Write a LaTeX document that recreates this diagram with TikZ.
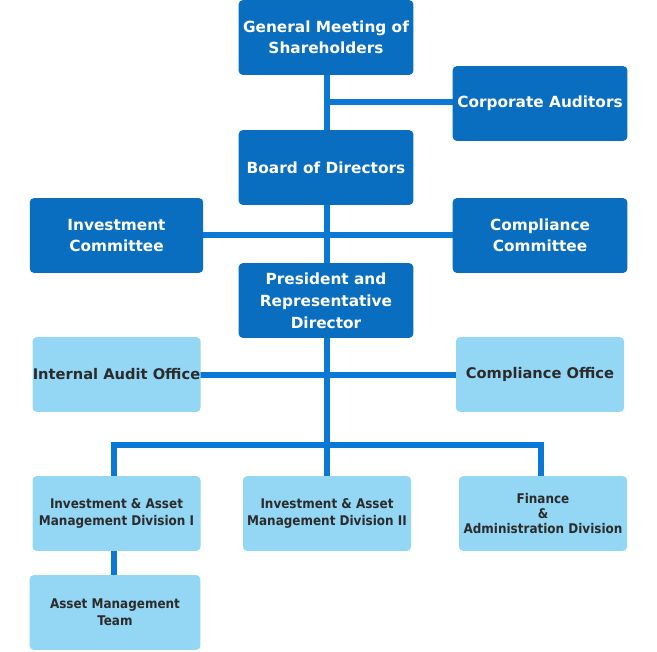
\documentclass[tikz,border=0pt]{standalone}
\usepackage{fontspec}
\setmainfont{DejaVu Sans}
\newfontfamily\condfont{DejaVu Sans Condensed}
\definecolor{darkbox}{HTML}{0A6EC0}
\definecolor{lightbox}{HTML}{93D7F5}
\definecolor{linkblue}{HTML}{0B78D6}
\definecolor{darktext}{HTML}{2B2B2B}
\tikzset{
  upper/.style={fill=darkbox, rounded corners=3pt, text=white, align=center,
    font=\bfseries\fontsize{11.5}{16}\selectfont, inner sep=0pt},
  lower/.style={fill=lightbox, rounded corners=3pt, text=darktext, align=center,
    font=\bfseries\fontsize{11}{15}\selectfont, inner sep=0pt},
  small/.style={lower, font=\condfont\bfseries\fontsize{10}{12.5}\selectfont},
  link/.style={draw=linkblue, line width=3.8pt}
}
\begin{document}
\begin{tikzpicture}[x=0.75pt, y=-0.75pt]
  \useasboundingbox (0,0) rectangle (657,651);
  % connectors (behind the boxes)
  \coordinate (top) at (327,40);
  \coordinate (j1) at (327,102);
  \coordinate (j2) at (327,235);
  \coordinate (j3) at (327,375);
  \coordinate (j4) at (327,445);
  \coordinate (jl) at (114,445);
  \coordinate (jr) at (541,445);
  \draw[link] (top) -- (327,510);
  \draw[link] (j1) -- (540,102);
  \draw[link] (115,235) -- (540,235);
  \draw[link] (115,375) -- (540,375);
  \draw[link] (114,510) |- (j4) -| (541,510);
  \draw[link] (114,510) -- (114,610);
  % boxes
  \node[upper, minimum width=131pt, minimum height=56pt] (gms) at (326,37.5) {General Meeting of\\Shareholders};
  \node[upper, minimum width=131pt, minimum height=56pt] (aud) at (540,103.5) {Corporate Auditors};
  \node[upper, minimum width=131pt, minimum height=56pt] (bod) at (326,167.5) {Board of Directors};
  \node[upper, minimum width=130pt, minimum height=56pt] (ic) at (116.5,235.5) {Investment\\Committee};
  \node[upper, minimum width=131pt, minimum height=56pt] (cc) at (540,235.5) {Compliance\\Committee};
  \node[upper, minimum width=131pt, minimum height=56pt, font=\bfseries\fontsize{11.5}{16.5}\selectfont] (pres) at (326,300.5) {President and\\Representative\\Director};
  \node[lower, minimum width=126pt, minimum height=56pt] (iao) at (116.5,374.5) {Internal Audit Office};
  \node[lower, minimum width=126pt, minimum height=56pt] (co) at (540,374.5) {Compliance Office};
  \node[small, minimum width=126pt, minimum height=56pt] (d1) at (116.5,513.5) {Investment \& Asset\\Management Division I};
  \node[small, minimum width=126pt, minimum height=56pt] (d2) at (327,513.5) {Investment \& Asset\\Management Division II};
  \node[small, minimum width=126pt, minimum height=56pt, font=\condfont\bfseries\fontsize{10}{11.5}\selectfont] (fin) at (543,513.5) {Finance\\\&\\Administration Division};
  \node[small, minimum width=128pt, minimum height=56pt] (amt) at (115,612.5) {Asset Management\\Team};
\end{tikzpicture}
\end{document}
